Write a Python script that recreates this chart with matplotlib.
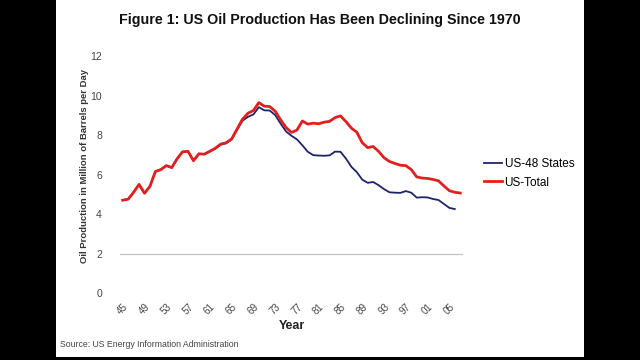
import matplotlib.pyplot as plt
from matplotlib.patches import Rectangle

# US crude oil production, million barrels per day
years_total = list(range(1945, 2008))
us_total = [4.70, 4.75, 5.10, 5.50, 5.05, 5.40, 6.15, 6.25, 6.45, 6.35,
            6.80, 7.15, 7.17, 6.70, 7.05, 7.03, 7.18, 7.33, 7.54, 7.61,
            7.80, 8.30, 8.80, 9.10, 9.24, 9.64, 9.46, 9.44, 9.21, 8.77,
            8.38, 8.13, 8.25, 8.71, 8.55, 8.60, 8.57, 8.65, 8.69, 8.88,
            8.97, 8.68, 8.35, 8.14, 7.61, 7.36, 7.42, 7.17, 6.85, 6.66,
            6.56, 6.47, 6.45, 6.25, 5.88, 5.82, 5.80, 5.75, 5.68, 5.42,
            5.18, 5.10, 5.06]

years_48 = list(range(1945, 2007))
us_48 = [4.70, 4.75, 5.10, 5.50, 5.05, 5.40, 6.15, 6.25, 6.45, 6.35,
         6.80, 7.15, 7.17, 6.70, 7.05, 7.03, 7.16, 7.30, 7.51, 7.58,
         7.77, 8.26, 8.72, 8.92, 9.04, 9.41, 9.25, 9.24, 9.01, 8.58,
         8.18, 7.96, 7.78, 7.48, 7.15, 6.98, 6.96, 6.95, 6.97, 7.16,
         7.15, 6.81, 6.39, 6.12, 5.74, 5.58, 5.62, 5.46, 5.26, 5.10,
         5.08, 5.07, 5.16, 5.08, 4.83, 4.85, 4.84, 4.76, 4.71, 4.51,
         4.31, 4.25]

tick_years = list(range(1945, 2006, 4))
tick_labels = [str(y)[2:] for y in tick_years]
y_ticks = [0, 2, 4, 6, 8, 10, 12]

plt.rcParams['font.family'] = ['Liberation Sans', 'DejaVu Sans']

fig = plt.figure(figsize=(6.4, 3.6), dpi=100, facecolor='black')
# white slide panel inside the black frame
fig.patches.append(Rectangle((0.0875, 0.008), 0.825, 0.992, transform=fig.transFigure,
                             facecolor='white', edgecolor='none', zorder=-10))

ax = fig.add_axes([0.1875, 0.1861, 0.5359, 0.6583])
ax.set_facecolor('white')

ax.axhline(2, color='#c4c4c4', linewidth=0.9, zorder=1)
ax.plot(years_48, us_48, color='#1c2466', linewidth=1.3, label='US-48 States', zorder=2)
ax.plot(years_total, us_total, color='#e0201e', linewidth=2.0, label='US-Total', zorder=3)

ax.set_xlim(1944.5, 2007.5)
ax.set_ylim(0, 12)
ax.set_yticks(y_ticks)
ax.set_yticklabels([str(v) for v in y_ticks], fontsize=7.5, color='#444444')
ax.set_xticks(tick_years)
ax.set_xticklabels(tick_labels, fontsize=7, color='#444444', rotation=45,
                   ha='right', rotation_mode='anchor')
ax.tick_params(axis='both', length=0)
ax.tick_params(axis='y', pad=13)
ax.tick_params(axis='x', pad=6)
for s in ax.spines.values():
    s.set_visible(False)

ax.set_ylabel('Oil Production in Million of Barrels per Day', fontsize=6.8,
              fontweight='bold', color='#333333')
ax.yaxis.set_label_coords(-0.09, 0.538)
ax.set_xlabel('Year', fontsize=9, fontweight='bold', color='#222222', labelpad=3)

fig.text(0.5, 0.945, 'Figure 1: US Oil Production Has Been Declining Since 1970',
         ha='center', va='center', fontsize=10.3, fontweight='bold', color='#111111')
fig.text(0.094, 0.042, 'Source: US Energy Information Administration',
         ha='left', va='center', fontsize=6.3, color='#444444')

ax.legend(loc='center left', bbox_to_anchor=(1.03, 0.505), frameon=False,
          fontsize=8.5, handlelength=1.5, handletextpad=0.25, labelspacing=0.55)

fig.savefig('out.png', dpi=100, facecolor='black')
